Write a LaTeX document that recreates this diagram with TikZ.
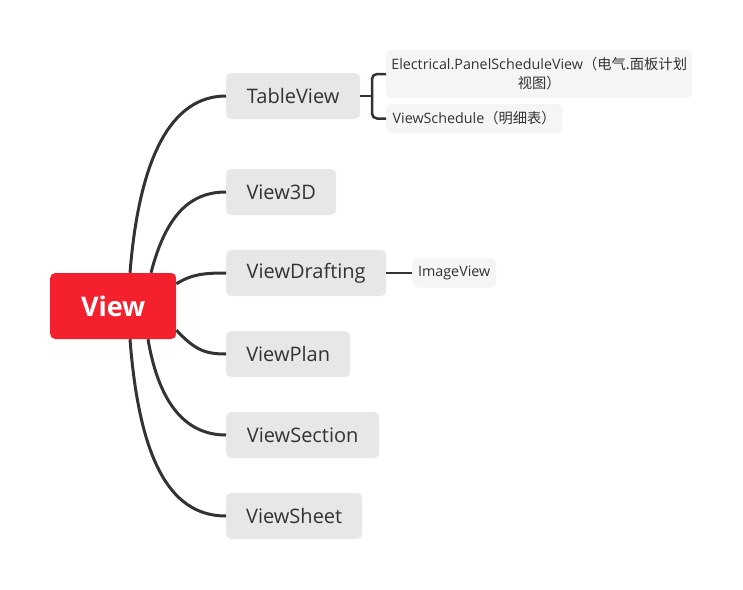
\documentclass[tikz,border=0pt]{standalone}
\usepackage{fontspec}
\setmainfont{Open Sans}
\newfontfamily\cjk{Noto Sans CJK SC}
\definecolor{rootred}{HTML}{F5202E}
\definecolor{branchgray}{HTML}{E7E7E7}
\definecolor{leafgray}{HTML}{F5F5F5}
\definecolor{inkgray}{HTML}{333333}
\tikzset{
  rootbox/.style={fill=rootred, text=white, rounded corners=5, anchor=west,
    minimum height=66, font=\fontsize{27}{32}\selectfont\bfseries},
  branchbox/.style={fill=branchgray, text=inkgray, rounded corners=5, anchor=west,
    minimum height=46, font=\fontsize{20}{24}\selectfont},
  leafbox/.style={fill=leafgray, text=inkgray, rounded corners=5, anchor=west,
    minimum height=29, font=\fontsize{14.3}{19}\selectfont},
  link/.style={draw=inkgray, line width=3},
  twig/.style={draw=inkgray, line width=2.5}
}
\begin{document}
\begin{tikzpicture}[x=1pt,y=-1pt]
      \useasboundingbox (0,0) rectangle (743,589);
      \draw
        (50,306) node[rootbox, minimum width=126] (view){View}
        (226,96) node[branchbox, minimum width=134] (tableview){TableView}
        (226,192) node[branchbox, minimum width=110] (view3d){View3D}
        (226,273) node[branchbox, minimum width=160] (viewdrafting){ViewDrafting}
        (226,354) node[branchbox, minimum width=124] (viewplan){ViewPlan}
        (226,435) node[branchbox, minimum width=153] (viewsection){ViewSection}
        (226,516) node[branchbox, minimum width=136] (viewsheet){ViewSheet}
        (386,74) node[leafbox, minimum width=306, minimum height=48, align=center] (panelview)
          {Electrical.PanelScheduleView{\cjk（电气.面板计划}\\{\cjk 视图）}}
        (386,118.5) node[leafbox, minimum width=176] (viewschedule){ViewSchedule{\cjk（明细表）}}
        (412,273) node[leafbox, minimum width=84] (imageview){ImageView};
      \coordinate (fork) at (372,96);
      \begin{scope}[link]
        \draw ([xshift=80]view.north west) .. controls (139,160) and (170,96) .. (tableview.west);
        \draw ([xshift=101]view.north west) .. controls (166,215) and (190,192) .. (view3d.west);
        \draw ([yshift=-11]view.north east) .. controls (192,274) and (205,273) .. (viewdrafting.west);
        \draw ([yshift=9]view.south east) .. controls (195,350) and (205,354) .. (viewplan.west);
        \draw ([xshift=98]view.south west) .. controls (160,410) and (190,435) .. (viewsection.west);
        \draw ([xshift=80]view.south west) .. controls (140,470) and (175,516) .. (viewsheet.west);
      \end{scope}
      \begin{scope}[twig]
        \draw (tableview.east) -- (fork);
        \draw[rounded corners=5] (panelview.west) -| (fork) |- (viewschedule.west);
        \draw (viewdrafting.east) -- (imageview.west);
      \end{scope}
    \end{tikzpicture}
\end{document}
